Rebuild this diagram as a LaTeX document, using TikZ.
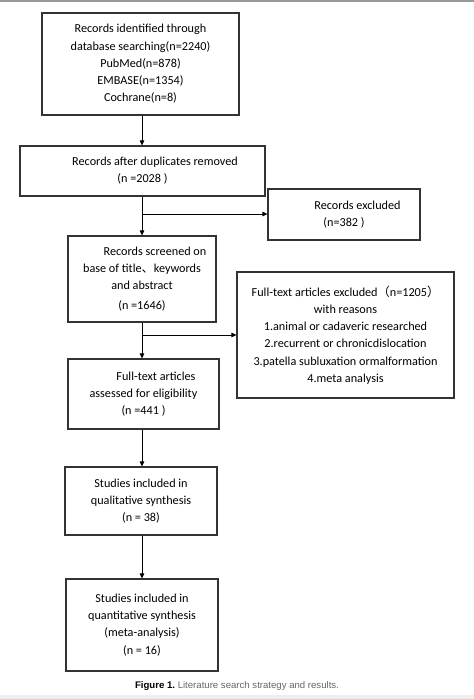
\documentclass[tikz,border=0pt]{standalone}
\usepackage{fontspec}
\setmainfont{Carlito}
\newfontfamily\capfont{Liberation Sans}
\newfontfamily\cjk{Noto Sans CJK SC}
\usetikzlibrary{arrows.meta}
\definecolor{boxc}{HTML}{333333}
\definecolor{topbar}{HTML}{999999}
\definecolor{botbar}{HTML}{EEEEEE}
\definecolor{capgray}{HTML}{666666}
\tikzset{
  x=1pt, y=-1pt,
  flowbox/.style={draw=boxc, line width=1.1pt, inner sep=0pt, align=center,
    font=\fontsize{12.2}{17.2}\selectfont, text=black},
  arr/.style={draw=black, line width=0.8pt, -{Triangle[length=5pt,width=4.5pt]}},
}
\begin{document}
\begin{tikzpicture}
\useasboundingbox (0,0) rectangle (474,699);
\fill[topbar] (0,0) rectangle (474,2.3);
\fill[botbar] (0,695) rectangle (474,699);
\coordinate (sp) at (142,0);

\node[flowbox, minimum width=197pt, minimum height=102pt] (b1) at (140.5,64)
  {Records identified through\\database searching(n=2240)\\PubMed(n=878)\\EMBASE(n=1354)\\Cochrane(n=8)};
\node[flowbox, minimum width=245pt, minimum height=50pt] (b2) at (142.5,171)
  {\hspace*{25pt}Records after duplicates removed\\(n =2028 )};
\node[flowbox, minimum width=152pt, minimum height=51pt] (ex1) at (344,214.5)
  {\hspace*{27pt}Records excluded\\(n=382 )};
\node[flowbox, minimum width=148pt, minimum height=86pt] (b3) at (142,279)
  {\hspace*{26pt}Records screened on\\base of title{\cjk 、}keywords\\and abstract\\[2.5pt](n =1646)};
\node[flowbox, minimum width=217pt, minimum height=126pt] (ex2) at (345.5,335)
  {Full-text articles excluded{\cjk （}n=1205{\cjk ）}\\with reasons\\1.animal or cadaveric researched\\2.recurrent or chronicdislocation\\3.patella subluxation ormalformation\\4.meta analysis};
\node[flowbox, minimum width=151pt, minimum height=70pt] (b4) at (143.5,394)
  {\hspace*{25pt}Full-text articles\\assessed for eligibility\\(n =441 )};
\node[flowbox, minimum width=152pt, minimum height=68pt] (b5) at (141,501)
  {Studies included in\\qualitative synthesis\\(n = 38)};
\node[flowbox, minimum width=152pt, minimum height=92pt] (b6) at (142,625)
  {Studies included in\\quantitative synthesis\\(meta-analysis)\\(n = 16)};

\coordinate (j1) at (142,214);
\coordinate (j2) at (142,335);
\draw[arr] (b1.south -| sp) -- (b2.north -| sp);
\draw[arr] (b2.south -| sp) -- (b3.north -| sp);
\draw[arr] (j1) -- (j1 -| ex1.west);
\draw[arr] (b3.south -| sp) -- (b4.north -| sp);
\draw[arr] (j2) -- (j2 -| ex2.west);
\draw[arr] (b4.south -| sp) -- (b5.north -| sp);
\draw[arr] (b5.south -| sp) -- (b6.north -| sp);

\node[inner sep=0pt, font=\capfont\fontsize{9.6}{11}\selectfont] (cap) at (237,685.7)
  {\textbf{Figure 1.}\ \textcolor{capgray}{Literature search strategy and results.}};
\end{tikzpicture}
\end{document}
